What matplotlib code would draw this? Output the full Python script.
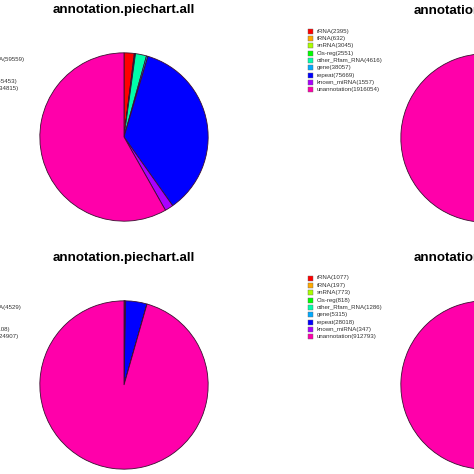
import matplotlib
matplotlib.use("Agg")
import matplotlib.pyplot as plt
from matplotlib.patches import Rectangle

categories = ["rRNA", "tRNA", "snRNA", "Cis-reg", "other_Rfam_RNA", "gene", "repeat", "known_miRNA", "unannotation"]
colors = ["#FF0000", "#FFAA00", "#AAFF00", "#00FF00", "#00FFAA", "#00AAFF", "#0000FF", "#AA00FF", "#FF00AA"]

values_tl = [55000, 3000, 2000, 1500, 59559, 8000, 1000000, 45453, 1634815]
values_tr = [2395, 632, 3045, 2551, 4616, 38057, 75669, 1557, 1916054]
values_bl = [900, 150, 300, 200, 4529, 1500, 95000, 108, 2224907]
values_br = [1077, 197, 773, 818, 1286, 5315, 28018, 347, 912793]
title = "annotation.piechart.all"

W = H = 474
fig = plt.figure(figsize=(4.74, 4.74), dpi=100)
R = 85

def panel(cx, cy, values):
    ax = fig.add_axes([(cx - R) / W, (H - cy - R) / H, 2 * R / W, 2 * R / H])
    ax.pie(values, colors=colors, startangle=90, counterclock=False, radius=1,
           wedgeprops=dict(edgecolor="#3a1030", linewidth=0.6))
    ax.set_xlim(-1.01, 1.01); ax.set_ylim(-1.01, 1.01)
    ax.set_aspect("equal"); ax.axis("off")
    fig.text(cx / W, 1 - (cy - 127) / H, title, ha="center", va="center",
             fontsize=9.6, fontweight="bold", family="Liberation Sans")
    mx = cx - 175
    for i, (name, col, v) in enumerate(zip(categories, colors, values)):
        y = cy - 107 + i * 7.35
        fig.patches.append(Rectangle(((mx - 2.5) / W, 1 - (y + 2.5) / H), 5 / W, 5 / H,
                                     transform=fig.transFigure, facecolor=col, edgecolor="#666666", lw=0.3))
        fig.text((mx + 7) / W, 1 - y / H, f"{name}({v})", ha="left", va="center",
                 fontsize=4.4, color="#333333", family="Liberation Sans")

panel(124, 137, values_tl)
panel(485, 138, values_tr)
panel(124, 385, values_bl)
panel(485, 385, values_br)

fig.savefig("out.png", dpi=100, facecolor="white")
